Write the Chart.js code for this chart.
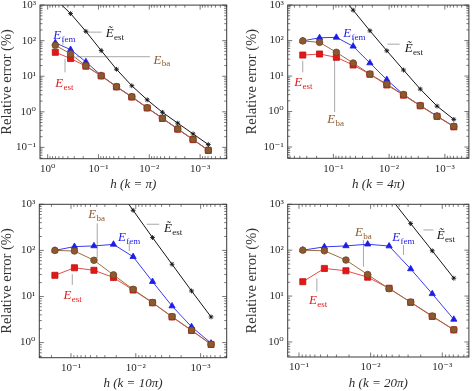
<!DOCTYPE html>
<html><head><meta charset="utf-8">
<script src="https://cdn.jsdelivr.net/npm/chart.js@4.4.1/dist/chart.umd.min.js"></script>
<style>
html,body{margin:0;padding:0;background:#fff;width:474px;height:391px;overflow:hidden}
canvas{position:absolute;display:block}
</style></head><body>
<canvas id="c1" width="237" height="195" style="left:0;top:0;width:237px;height:195px"></canvas>
<canvas id="c2" width="237" height="195" style="left:237px;top:0;width:237px;height:195px"></canvas>
<canvas id="c3" width="237" height="196" style="left:0;top:195px;width:237px;height:196px"></canvas>
<canvas id="c4" width="237" height="196" style="left:237px;top:195px;width:237px;height:196px"></canvas>
<script>
// ---------- data ----------
// k = pi
const h_k1      = [0.707, 0.354, 0.177, 0.0884, 0.0442, 0.0221, 0.0110, 0.00552, 0.00276, 0.00138, 0.00069];
const eTilde_k1 = [1500, 578, 183, 52.7, 15.7, 5.4, 2.17, 0.97, 0.48, 0.24, 0.12];
const eFem_k1   = [87, 56, 25.4, 10.5, 5.1, 2.64, 1.3, 0.66, 0.33, 0.167, 0.083];
const eBa_k1    = [74, 42.6, 19.6, 10.3, 5.1, 2.64, 1.3, 0.66, 0.33, 0.167, 0.083];
const eEst_k1   = [47, 31.5, 19.2, 10.2, 5.0, 2.6, 1.28, 0.65, 0.325, 0.165, 0.082];
// k = 4 pi
const h_k4      = [0.354, 0.177, 0.0884, 0.0442, 0.0221, 0.0110, 0.00552, 0.00276, 0.00138, 0.00069];
const eTilde_k4 = [35000, 10000, 2800, 720, 189, 51.7, 14.8, 4.3, 1.42, 0.6];
const eFem_k4   = [98, 120, 123, 69, 23.3, 7.9, 3.0, 1.47, 0.74, 0.38];
const eBa_k4    = [98, 89, 46.6, 23.3, 11.4, 5.9, 3.0, 1.47, 0.74, 0.38];
const eEst_k4   = [39, 41.8, 33.7, 20.5, 11.2, 5.6, 2.9, 1.45, 0.73, 0.37];
// k = 10 pi
const h_k10      = [0.177, 0.0884, 0.0442, 0.0221, 0.0110, 0.00552, 0.00276, 0.00138, 0.00069];
const eTilde_k10 = [140000, 40000, 11000, 2900, 740, 190, 50, 13.2, 3.6];
const eFem_k10   = [100, 121, 125, 135, 73, 21, 6.2, 2.2, 0.97];
const eBa_k10    = [100, 97, 61, 29.4, 14.3, 7.4, 3.66, 1.85, 0.92];
const eEst_k10   = [28.8, 42, 37, 25.8, 13.8, 7.3, 3.6, 1.83, 0.91];
// k = 20 pi
const h_k20      = [0.0884, 0.0442, 0.0221, 0.0110, 0.00552, 0.00276, 0.00138, 0.00069];
const eTilde_k20 = [380000, 96000, 24000, 6000, 1500, 380, 97, 24.5];
const eFem_k20   = [100, 118, 124, 135, 123, 39, 11.2, 3.1];
const eBa_k20    = [100, 97, 61, 29.4, 14.5, 7.4, 3.67, 1.85];
const eEst_k20   = [20.6, 40, 35.6, 25.8, 14.8, 7.3, 3.6, 1.83];

// tick values and labels
const xTicksA  = [1, 0.1, 0.01, 0.001];
const xLabelsA = ['10\u2070', '10\u207B\u00B9', '10\u207B\u00B2', '10\u207B\u00B3'];
const xTicksB  = [0.1, 0.01, 0.001];
const xLabelsB = ['10\u207B\u00B9', '10\u207B\u00B2', '10\u207B\u00B3'];
const yTicksA  = [0.1, 1, 10, 100, 1000];
const yLabelsA = ['10\u207B\u00B9', '10\u2070', '10\u00B9', '10\u00B2', '10\u00B3'];
const yTicksB  = [1, 10, 100, 1000];
const yLabelsB = ['10\u2070', '10\u00B9', '10\u00B2', '10\u00B3'];

const xTitles = ['h (k = \u03C0)', 'h (k = 4\u03C0)', 'h (k = 10\u03C0)', 'h (k = 20\u03C0)'];
const yTitle = 'Relative error (%)';

// ---------- styling ----------
const SERIF = '"Liberation Serif", "DejaVu Serif", serif';
const C_BLACK = '#151515', C_BLUE = '#1c1ce8', C_BROWN = '#8c5a2e', C_RED = '#e01818';

const panels = [
  { id:'c1', W:237, H:195, area:{l:40, t:4, r:226.7, b:158.7},
    h:h_k1, s:[eTilde_k1, eBa_k1, eEst_k1, eFem_k1],
    xMin:3.45e-4, xMax:1.414, yMin:0.048, yMax:1000,
    xT:xTicksA, xL:xLabelsA, yT:yTicksA, yL:yLabelsA, xTitle:xTitles[0],
    yTitlePad:0, xTitlePad:2.5,
    ann:[
      {m:'\u1EBC', sub:'est', c:C_BLACK, fx:0.40, fy:0.179, pin:[0.257,0.176,0.330,0.176]},
      {m:'E', sub:'fem', c:C_BLUE, fx:0.13, fy:0.19, pin:[0.123,0.228,0.123,0.259]},
      {m:'E', sub:'ba', c:C_BROWN, fx:0.652, fy:0.351, pin:[0.196,0.336,0.589,0.336]},
      {m:'E', sub:'est', c:C_RED, fx:0.13, fy:0.502, pin:[0.134,0.349,0.134,0.438]}
    ]},
  { id:'c2', W:237, H:195, area:{l:50.7, t:4, r:232.3, b:158.3},
    h:h_k4, s:[eTilde_k4, eBa_k4, eEst_k4, eFem_k4],
    xMin:3.70e-4, xMax:0.660, yMin:0.048, yMax:1000,
    xT:xTicksB, xL:xLabelsB, yT:yTicksA, yL:yLabelsA, xTitle:xTitles[1],
    yTitlePad:7.5, xTitlePad:2.5,
    ann:[
      {m:'\u1EBC', sub:'est', c:C_BLACK, fx:0.696, fy:0.277, pin:[0.551,0.255,0.618,0.255]},
      {m:'E', sub:'fem', c:C_BLUE, fx:0.367, fy:0.18, pin:[0.363,0.212,0.363,0.244]},
      {m:'E', sub:'est', c:C_RED, fx:0.086, fy:0.499, pin:[0.083,0.363,0.083,0.439]},
      {m:'E', sub:'ba', c:C_BROWN, fx:0.263, fy:0.741, pin:[0.259,0.342,0.259,0.698]}
    ]},
  { id:'c3', W:237, H:196, area:{l:39.3, t:9.3, r:226.7, b:162.7},
    h:h_k10, s:[eTilde_k10, eBa_k10, eEst_k10, eFem_k10],
    xMin:3.96e-4, xMax:0.308, yMin:0.47, yMax:1000,
    xT:xTicksB, xL:xLabelsB, yT:yTicksB, yL:yLabelsB, xTitle:xTitles[2],
    yTitlePad:0, xTitlePad:0,
    ann:[
      {m:'E', sub:'ba', c:C_BROWN, fx:0.305, fy:0.063, pin:[0.309,0.124,0.309,0.352]},
      {m:'\u1EBC', sub:'est', c:C_BLACK, fx:0.713, fy:0.15, pin:[0.573,0.13,0.64,0.13]},
      {m:'E', sub:'fem', c:C_BLUE, fx:0.479, fy:0.211, pin:[0.48,0.25,0.48,0.304]},
      {m:'E', sub:'est', c:C_RED, fx:0.177, fy:0.587, pin:[0.176,0.456,0.176,0.526]}
    ]},
  { id:'c4', W:237, H:196, area:{l:50.7, t:9.3, r:232.3, b:162},
    h:h_k20, s:[eTilde_k20, eBa_k20, eEst_k20, eFem_k20],
    xMin:4.25e-4, xMax:0.1436, yMin:0.47, yMax:1000,
    xT:xTicksB, xL:xLabelsB, yT:yTicksB, yL:yLabelsB, xTitle:xTitles[3],
    yTitlePad:7.5, xTitlePad:0,
    ann:[
      {m:'\u1EBC', sub:'est', c:C_BLACK, fx:0.872, fy:0.196, pin:[0.749,0.168,0.804,0.168]},
      {m:'E', sub:'ba', c:C_BROWN, fx:0.417, fy:0.179, pin:[0.418,0.234,0.418,0.409]},
      {m:'E', sub:'fem', c:C_BLUE, fx:0.638, fy:0.212, pin:[0.639,0.266,0.639,0.332]},
      {m:'E', sub:'est', c:C_RED, fx:0.167, fy:0.622, pin:[0.161,0.485,0.161,0.572]}
    ]}
];

function pts(h, v){ return h.map((x,i)=>({x:x, y:v[i]})); }

function drawLabel(ctx, x, y, main, sub, color){
  ctx.save();
  ctx.fillStyle = color;
  ctx.textBaseline = 'alphabetic';
  const f1 = 'italic 13px ' + SERIF, f2 = '9px ' + SERIF;
  ctx.font = f1; const w1 = ctx.measureText(main).width;
  ctx.font = f2; const w2 = ctx.measureText(sub).width;
  const x0 = x - (w1 + w2) / 2, base = y + 4.5;
  ctx.font = f1; ctx.fillText(main, x0, base);
  ctx.font = f2; ctx.fillText(sub, x0 + w1 + 0.3, base + 2.8);
  ctx.restore();
}

const axesPlugin = {
  id:'pgfAxes',
  beforeDatasetsDraw(chart){
    const a = chart.chartArea, ctx = chart.ctx, p = chart.options.plugins.pgfAxes;
    ctx.save();
    ctx.strokeStyle = '#a8a8a8'; ctx.lineWidth = 1;
    p.ann.forEach(n=>{
      const X = f => a.left + f*(a.right-a.left), Y = f => a.top + f*(a.bottom-a.top);
      ctx.beginPath(); ctx.moveTo(X(n.pin[0]), Y(n.pin[1])); ctx.lineTo(X(n.pin[2]), Y(n.pin[3])); ctx.stroke();
    });
    ctx.restore();
  },
  afterDatasetsDraw(chart){
    const a = chart.chartArea, ctx = chart.ctx, p = chart.options.plugins.pgfAxes;
    const xs = chart.scales.x, ys = chart.scales.y;
    ctx.save();
    ctx.strokeStyle = '#555'; ctx.lineWidth = 0.8;
    function decTicks(min, max, cb){
      for (let d = Math.floor(Math.log10(min)); d <= Math.ceil(Math.log10(max)); d++){
        for (let m = 1; m <= 9; m++){
          const v = m * Math.pow(10, d);
          if (v >= min*0.999 && v <= max*1.001) cb(v, m === 1);
        }
      }
    }
    ctx.beginPath();
    decTicks(xs.min, xs.max, (v, maj)=>{
      const px = xs.getPixelForValue(v), L = maj ? 4.5 : 2.5;
      ctx.moveTo(px, a.bottom); ctx.lineTo(px, a.bottom - L);
      ctx.moveTo(px, a.top); ctx.lineTo(px, a.top + L);
    });
    decTicks(ys.min, ys.max, (v, maj)=>{
      const py = ys.getPixelForValue(v), L = maj ? 4.5 : 2.5;
      ctx.moveTo(a.left, py); ctx.lineTo(a.left + L, py);
      ctx.moveTo(a.right, py); ctx.lineTo(a.right - L, py);
    });
    ctx.stroke();
    ctx.strokeStyle = '#3a3a3a'; ctx.lineWidth = 1;
    ctx.strokeRect(a.left, a.top, a.right - a.left, a.bottom - a.top);
    ctx.restore();
    p.ann.forEach(n=>{
      drawLabel(ctx, a.left + n.fx*(a.right-a.left), a.top + n.fy*(a.bottom-a.top), n.m, n.sub, n.c);
    });
  }
};

panels.forEach(P=>{
  const A = P.area;
  new Chart(document.getElementById(P.id), {
    type:'line',
    data:{ datasets:[
      { label:'E~est', data:pts(P.h, P.s[0]), borderColor:C_BLACK, borderWidth:1,
        pointStyle:'star', pointRadius:2.4, pointBorderColor:C_BLACK, pointBorderWidth:0.9, pointBackgroundColor:C_BLACK },
      { label:'E_ba', data:pts(P.h, P.s[1]), borderColor:'#9a6c44', borderWidth:1,
        pointStyle:'circle', pointRadius:3.3, pointBackgroundColor:C_BROWN, pointBorderColor:'#6e4422', pointBorderWidth:0.8 },
      { label:'E_est', data:pts(P.h, P.s[2]), borderColor:'#e84a4a', borderWidth:1,
        pointStyle:'rect', pointRadius:4.3, pointBackgroundColor:C_RED, pointBorderColor:'#c41010', pointBorderWidth:0.8 },
      { label:'E_fem', data:pts(P.h, P.s[3]), borderColor:'#3a3af0', borderWidth:1,
        pointStyle:'triangle', pointRadius:3.6, pointBackgroundColor:C_BLUE, pointBorderColor:C_BLUE, pointBorderWidth:0.8 }
    ]},
    options:{
      responsive:false, animation:false, events:[],
      layout:{ padding:{ top:A.t, right:P.W - A.r, left:0, bottom:0 } },
      plugins:{ legend:{display:false}, tooltip:{enabled:false}, pgfAxes:{ ann:P.ann } },
      elements:{ line:{ tension:0 } },
      scales:{
        x:{ type:'logarithmic', reverse:true, min:P.xMin, max:P.xMax,
            grid:{ display:false, drawTicks:false }, border:{display:false},
            afterBuildTicks:s=>{ s.ticks = P.xT.map(v=>({value:v})); },
            afterFit:s=>{ s.height = P.H - A.b; s.paddingLeft = 0; s.paddingRight = 0; },
            ticks:{ autoSkip:false, maxRotation:0, padding:4, color:'#2a2a2a',
                    font:{ family:SERIF, size:11 }, callback:(v,i)=>P.xL[i] },
            title:{ display:true, text:P.xTitle, color:'#2a2a2a',
                    font:{ family:SERIF, size:13, style:'italic', lineHeight:1.2 },
                    padding:{ top:0, bottom:P.xTitlePad } } },
        y:{ type:'logarithmic', min:P.yMin, max:P.yMax,
            grid:{ display:false, drawTicks:false }, border:{display:false},
            afterBuildTicks:s=>{ s.ticks = P.yT.map(v=>({value:v})); },
            afterFit:s=>{ s.width = A.l; s.paddingTop = 0; s.paddingBottom = 0; },
            ticks:{ autoSkip:false, padding:4, color:'#2a2a2a',
                    font:{ family:SERIF, size:11 }, callback:(v,i)=>P.yL[i] },
            title:{ display:true, text:yTitle, color:'#333',
                    font:{ family:SERIF, size:14.5, lineHeight:1 },
                    padding:{ top:P.yTitlePad, bottom:0 } } }
      }
    },
    plugins:[axesPlugin]
  });
});
</script>
</body></html>
